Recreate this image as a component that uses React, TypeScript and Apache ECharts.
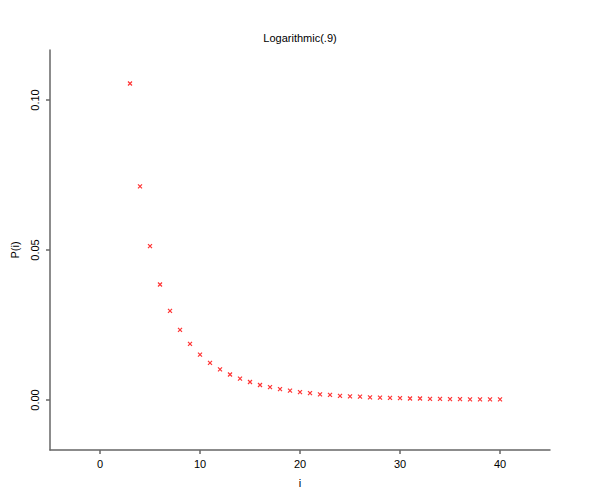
import React, { useRef, useEffect } from "react";
import * as echarts from "echarts";

const iValues = [
  3, 4, 5, 6, 7, 8, 9, 10, 11, 12, 13, 14, 15, 16, 17, 18, 19, 20, 21, 22, 23,
  24, 25, 26, 27, 28, 29, 30, 31, 32, 33, 34, 35, 36, 37, 38, 39, 40,
];
const probValues = [
  0.1055, 0.0712, 0.0513, 0.0385, 0.0297, 0.0234, 0.0187, 0.0151, 0.0124,
  0.0102, 0.0085, 0.0071, 0.006, 0.005, 0.0043, 0.0036, 0.0031, 0.0026, 0.0023,
  0.0019, 0.0017, 0.0014, 0.0012, 0.0011, 0.0009, 0.0008, 0.0007, 0.0006,
  0.0005, 0.0005, 0.0004, 0.0004, 0.0003, 0.0003, 0.0002, 0.0002, 0.0002,
  0.0002,
];
const xTicks = [0, 10, 20, 30, 40];
const yTicks = [0, 0.05, 0.1];

const App = () => {
  const chart = useRef<HTMLDivElement>(null);
  useEffect(() => {
    if (!chart.current) return;
    const myChart = echarts.init(chart.current, undefined, { renderer: "svg" });
    const axisColor = "#666";
    const font = "'Liberation Sans', Arial, sans-serif";
    const nameStyle = {
      fontSize: 11,
      color: "#000",
      fontWeight: "normal",
      fontFamily: font,
    };
    const option = {
      animation: false,
      backgroundColor: "#fff",
      title: {
        text: "Logarithmic(.9)",
        left: "center",
        top: 27,
        textStyle: {
          fontSize: 11,
          fontWeight: "normal",
          color: "#000",
          fontFamily: font,
        },
      },
      grid: { left: 50, right: 50, top: 50, bottom: 50 },
      xAxis: {
        type: "value",
        min: -5,
        max: 45,
        name: "i",
        nameLocation: "middle",
        nameGap: 27,
        nameTextStyle: nameStyle,
        splitLine: { show: false },
        axisLine: {
          show: true,
          onZero: false,
          lineStyle: { color: axisColor, width: 1.5 },
        },
        axisTick: {
          show: true,
          length: 4,
          customValues: xTicks,
          lineStyle: { color: axisColor, width: 1.5 },
        },
        axisLabel: {
          customValues: xTicks,
          fontSize: 11,
          color: "#000",
          margin: 8,
          fontFamily: font,
        },
      },
      yAxis: {
        type: "value",
        min: -1 / 60,
        max: 7 / 60,
        name: "P(i)",
        nameLocation: "middle",
        nameRotate: 90,
        nameGap: 30,
        nameTextStyle: nameStyle,
        splitLine: { show: false },
        axisLine: {
          show: true,
          onZero: false,
          lineStyle: { color: axisColor, width: 1.5 },
        },
        axisTick: {
          show: true,
          length: 4,
          customValues: yTicks,
          lineStyle: { color: axisColor, width: 1.5 },
        },
        axisLabel: {
          customValues: yTicks,
          rotate: 90,
          fontSize: 11,
          color: "#000",
          margin: 10,
          fontFamily: font,
          formatter: (v: number) => v.toFixed(2),
        },
      },
      series: [
        {
          type: "scatter",
          data: iValues.map((x, k) => [x, probValues[k]]),
          symbol: "path://M0,0L10,10M10,0L0,10",
          symbolSize: 4,
          itemStyle: {
            color: "transparent",
            borderColor: "#ff0000",
            borderWidth: 1.2,
          },
        },
      ],
    };
    myChart.setOption(option as any);
    return () => {
      myChart.dispose();
    };
  }, []);
  return <div ref={chart} style={{ width: 600, height: 500, margin: -8 }}></div>;
};

export default App;
